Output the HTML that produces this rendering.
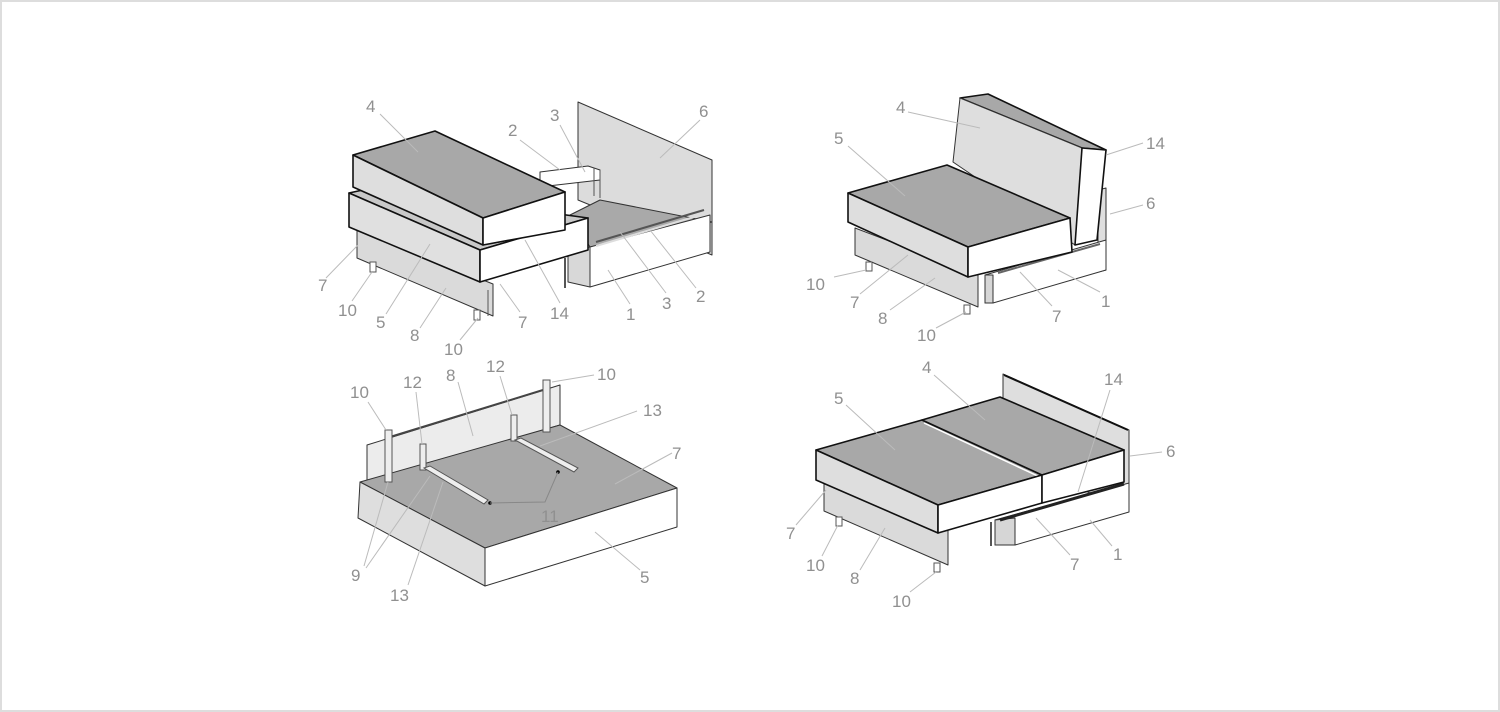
<!DOCTYPE html>
<html><head><meta charset="utf-8"><style>
html,body{margin:0;padding:0;background:#fff;}
svg{display:block;}
text{font-family:"Liberation Sans",sans-serif;font-size:17px;fill:#909090;}
.l{stroke:#bbb;stroke-width:1;fill:none;}
.o{stroke:#111;stroke-width:1.6;stroke-linejoin:round;}
.t{stroke:#333;stroke-width:1;stroke-linejoin:round;}
</style></head><body>
<svg width="1500" height="712" viewBox="0 0 1500 712" xmlns="http://www.w3.org/2000/svg">
<rect x="1" y="1" width="1498" height="710" fill="#fff" stroke="#ddd" stroke-width="2"/>

<!-- ===== TOP LEFT ===== -->
<polygon class="t" points="578,102 712,160 712,255 578,200" fill="#dcdcdc"/>
<polygon class="t" points="568,250 590,247 590,287 568,282" fill="#d8d8d8"/>
<polygon class="t" points="570,215 600,200 712,222 590,247" fill="#a9a9a9"/>
<polygon class="t" points="590,247 710,215 710,252 590,287" fill="#fff"/>
<line x1="596" y1="242" x2="704" y2="210" stroke="#555" stroke-width="2"/>
<line x1="596" y1="246" x2="704" y2="214" stroke="#ddd" stroke-width="2"/>
<polygon class="t" points="540,172 588,166 600,170 600,180 548,186 540,182" fill="#fff"/>
<line x1="594" y1="168" x2="594" y2="196" stroke="#555"/>
<line x1="600" y1="170" x2="600" y2="198" stroke="#555"/>
<polygon class="t" points="357,230 493,284 493,316 357,258" fill="#dadada"/>
<rect x="370" y="262" width="6" height="10" fill="#fff" stroke="#555"/>
<rect x="474" y="310" width="6" height="10" fill="#fff" stroke="#555"/>
<line x1="488" y1="290" x2="488" y2="316" stroke="#555"/>
<line x1="565" y1="258" x2="565" y2="288" stroke="#555" stroke-width="2"/>
<polygon class="o" points="349,193 372,188 588,218 480,250" fill="#c8c8c8"/>
<polygon class="o" points="349,193 480,250 480,282 349,227" fill="#e0e0e0"/>
<polygon class="o" points="480,250 588,218 588,250 480,282" fill="#fff"/>
<polygon class="o" points="353,155 435,131 565,192 483,218" fill="#a8a8a8"/>
<polygon class="o" points="353,155 483,218 483,245 353,187" fill="#dedede"/>
<polygon class="o" points="483,218 565,192 565,230 483,245" fill="#fff"/>

<text x="366" y="112">4</text><line class="l" x1="380" y1="114" x2="418" y2="152"/>
<text x="508" y="136">2</text><line class="l" x1="520" y1="140" x2="560" y2="170"/>
<text x="550" y="121">3</text><line class="l" x1="560" y1="125" x2="585" y2="172"/>
<text x="699" y="117">6</text><line class="l" x1="700" y1="120" x2="660" y2="158"/>
<text x="318" y="291">7</text><line class="l" x1="326" y1="278" x2="358" y2="245"/>
<text x="338" y="316">10</text><line class="l" x1="352" y1="301" x2="372" y2="272"/>
<text x="376" y="328">5</text><line class="l" x1="386" y1="314" x2="430" y2="244"/>
<text x="410" y="341">8</text><line class="l" x1="420" y1="328" x2="446" y2="288"/>
<text x="444" y="355">10</text><line class="l" x1="460" y1="340" x2="478" y2="318"/>
<text x="518" y="328">7</text><line class="l" x1="520" y1="312" x2="500" y2="284"/>
<text x="550" y="319">14</text><line class="l" x1="560" y1="303" x2="525" y2="240"/>
<text x="626" y="320">1</text><line class="l" x1="630" y1="304" x2="608" y2="270"/>
<text x="662" y="309">3</text><line class="l" x1="666" y1="293" x2="620" y2="232"/>
<text x="696" y="302">2</text><line class="l" x1="696" y1="288" x2="650" y2="230"/>

<!-- ===== TOP RIGHT ===== -->
<polygon class="t" points="1098,190 1106,188 1106,270 1098,272" fill="#dedede"/>
<polygon class="t" points="985,275 1106,240 1106,270 993,303 985,303" fill="#fff"/>
<polygon class="t" points="985,275 993,275 993,303 985,303" fill="#d6d6d6"/>
<line x1="998" y1="273" x2="1100" y2="244" stroke="#666" stroke-width="2"/>
<polygon class="t" points="855,228 978,275 978,307 855,255" fill="#dadada"/>
<rect x="866" y="262" width="6" height="9" fill="#fff" stroke="#555"/>
<rect x="964" y="305" width="6" height="9" fill="#fff" stroke="#555"/>
<polygon class="o" points="960,98 988,94 1106,150 1082,148" fill="#a8a8a8"/>
<polygon class="t" points="960,98 1082,148 1075,245 953,162" fill="#dedede"/>
<polygon class="o" points="1082,148 1106,150 1097,240 1075,245" fill="#fff"/>
<polygon class="o" points="848,193 947,165 1070,218 968,247" fill="#a8a8a8"/>
<polygon class="o" points="848,193 968,247 968,277 848,222" fill="#dedede"/>
<polygon class="o" points="968,247 1070,218 1072,252 968,277" fill="#fff"/>
<text x="896" y="113">4</text><line class="l" x1="908" y1="112" x2="980" y2="128"/>
<text x="834" y="144">5</text><line class="l" x1="848" y1="146" x2="905" y2="196"/>
<text x="1146" y="149">14</text><line class="l" x1="1143" y1="143" x2="1106" y2="155"/>
<text x="1146" y="209">6</text><line class="l" x1="1143" y1="205" x2="1110" y2="214"/>
<text x="806" y="290">10</text><line class="l" x1="834" y1="277" x2="866" y2="270"/>
<text x="850" y="308">7</text><line class="l" x1="860" y1="294" x2="908" y2="255"/>
<text x="878" y="324">8</text><line class="l" x1="890" y1="310" x2="935" y2="278"/>
<text x="917" y="341">10</text><line class="l" x1="936" y1="328" x2="966" y2="312"/>
<text x="1052" y="322">7</text><line class="l" x1="1052" y1="306" x2="1020" y2="272"/>
<text x="1101" y="307">1</text><line class="l" x1="1100" y1="292" x2="1058" y2="270"/>

<!-- ===== BOTTOM LEFT ===== -->
<polygon class="t" points="367,445 560,385 560,425 367,482" fill="#ececec"/>
<line x1="390" y1="437" x2="543" y2="390" stroke="#444" stroke-width="2"/>
<polygon class="t" points="360,482 560,425 677,488 485,548" fill="#a8a8a8"/>
<polygon class="t" points="360,482 485,548 485,586 358,518" fill="#dedede"/>
<polygon class="t" points="485,548 677,488 677,527 485,586" fill="#fff"/>
<rect x="385" y="430" width="7" height="52" fill="#eee" stroke="#555"/>
<rect x="543" y="380" width="7" height="52" fill="#eee" stroke="#555"/>
<rect x="420" y="444" width="6" height="26" fill="#eee" stroke="#555"/>
<rect x="511" y="415" width="6" height="26" fill="#eee" stroke="#555"/>
<polygon points="424,468 430,466 488,500 484,504" fill="#eee" stroke="#555"/>
<polygon points="515,440 521,438 578,468 574,472" fill="#eee" stroke="#555"/>
<circle cx="490" cy="503" r="1.8" fill="#000"/><circle cx="558" cy="472" r="1.8" fill="#000"/>
<polyline class="l" points="490,503 545,502 558,472" style="stroke:#888"/>
<text x="350" y="398">10</text><line class="l" x1="368" y1="402" x2="386" y2="430"/>
<text x="403" y="388">12</text><line class="l" x1="416" y1="392" x2="422" y2="444"/>
<text x="446" y="381">8</text><line class="l" x1="458" y1="382" x2="473" y2="436"/>
<text x="486" y="372">12</text><line class="l" x1="500" y1="376" x2="512" y2="415"/>
<text x="597" y="380">10</text><line class="l" x1="594" y1="375" x2="552" y2="382"/>
<text x="643" y="416">13</text><line class="l" x1="637" y1="411" x2="540" y2="446"/>
<text x="672" y="459">7</text><line class="l" x1="672" y1="453" x2="615" y2="484"/>
<text x="541" y="522">11</text>
<text x="640" y="583">5</text><line class="l" x1="640" y1="570" x2="595" y2="532"/>
<text x="351" y="581">9</text><line class="l" x1="364" y1="566" x2="388" y2="482"/><line class="l" x1="366" y1="568" x2="430" y2="476"/>
<text x="390" y="601">13</text><line class="l" x1="408" y1="585" x2="443" y2="482"/>

<!-- ===== BOTTOM RIGHT ===== -->
<polygon class="t" points="1003,374 1129,430 1129,510 1003,455" fill="#dedede"/>
<line x1="1004" y1="375" x2="1128" y2="430" stroke="#111" stroke-width="2"/>
<polygon class="t" points="995,520 1129,483 1129,512 1015,545 995,545" fill="#fff"/>
<polygon class="t" points="995,520 1015,518 1015,545 995,545" fill="#d6d6d6"/>
<line x1="1000" y1="520" x2="1124" y2="484" stroke="#222" stroke-width="3"/>
<line x1="991" y1="522" x2="991" y2="546" stroke="#555" stroke-width="2"/>
<polygon class="t" points="824,480 948,530 948,565 824,511" fill="#dadada"/>
<rect x="836" y="517" width="6" height="9" fill="#fff" stroke="#555"/>
<rect x="934" y="563" width="6" height="9" fill="#fff" stroke="#555"/>
<polygon class="o" points="816,450 922,420 1042,475 938,505" fill="#a8a8a8"/>
<polygon class="o" points="922,420 1000,397 1124,450 1042,475" fill="#a8a8a8"/>
<line x1="924" y1="423" x2="1042" y2="478" stroke="#fff" stroke-width="1.5"/>
<polygon class="o" points="816,450 938,505 938,533 816,480" fill="#dedede"/>
<polygon class="o" points="938,505 1042,475 1042,503 938,533" fill="#fff"/>
<polygon class="o" points="1042,475 1124,450 1124,482 1042,503" fill="#fff"/>
<text x="922" y="373">4</text><line class="l" x1="934" y1="375" x2="985" y2="420"/>
<text x="834" y="404">5</text><line class="l" x1="846" y1="405" x2="895" y2="450"/>
<text x="1104" y="385">14</text><line class="l" x1="1110" y1="390" x2="1078" y2="492"/>
<text x="1166" y="457">6</text><line class="l" x1="1162" y1="452" x2="1130" y2="456"/>
<text x="786" y="539">7</text><line class="l" x1="796" y1="525" x2="826" y2="490"/>
<text x="806" y="571">10</text><line class="l" x1="822" y1="556" x2="838" y2="525"/>
<text x="850" y="584">8</text><line class="l" x1="860" y1="570" x2="885" y2="528"/>
<text x="892" y="607">10</text><line class="l" x1="910" y1="592" x2="936" y2="572"/>
<text x="1070" y="570">7</text><line class="l" x1="1070" y1="555" x2="1036" y2="518"/>
<text x="1113" y="560">1</text><line class="l" x1="1112" y1="546" x2="1090" y2="520"/>
</svg>
</body></html>
